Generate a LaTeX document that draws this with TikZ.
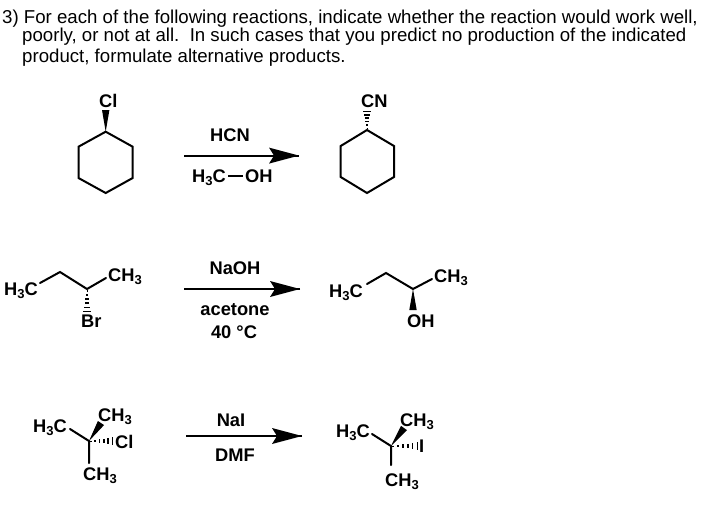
\documentclass[tikz,border=0pt]{standalone}
\usepackage{fontspec}
\setmainfont{Liberation Sans}
\usetikzlibrary{calc}
\newcommand\lowidx[1]{\raisebox{-3.5pt}{\fontsize{13}{13}\selectfont #1}}
\newcommand\hashbond[2]{%
  \foreach \t in {0.08,0.26,0.44,0.62,0.8,0.98}{%
    \draw[line width=1.6pt] ($(#1)!\t!(#2)!{\t*3.6pt}!90:(#2)$) -- ($(#1)!\t!(#2)!{\t*3.6pt}!-90:(#2)$);}}
\newcommand\wedgebond[2]{%
  \fill[black] (#1) -- ($(#2)!3.7pt!90:(#1)$) -- ($(#2)!3.7pt!-90:(#1)$) -- cycle;}
\tikzset{
  chem/.style={inner sep=0pt,font=\fontsize{18.3}{18.3}\selectfont\bfseries,anchor=base west},
  reagent/.style={inner sep=0pt,font=\fontsize{18.3}{18.3}\selectfont\bfseries,anchor=base},
  bond/.style={line width=2pt,line join=miter,line cap=round},
  rxnline/.style={line width=2pt},
  rxnhead/.style={fill=black,draw=none},
  question/.style={inner sep=0pt,anchor=base west,font=\fontsize{18.65}{18.65}\selectfont}
}
\begin{document}
\begin{tikzpicture}[x=1pt,y=-1pt]
\useasboundingbox (0,0) rectangle (726,525);
% question text
\node[question] (q1) at (2,23) {3) For each of the following reactions, indicate whether the reaction would work well,};
\node[question] (q2) at (22,41) {poorly, or not at all.\ \ In such cases that you predict no production of the indicated};
\node[question] (q3) at (22,62) {product, formulate alternative products.};
% reaction 1 reactant
\coordinate (a1) at (105.7,131.7);
\coordinate (a2) at (132.7,146.7);
\coordinate (a3) at (132.7,178);
\coordinate (a4) at (105.7,193);
\coordinate (a5) at (78.5,178);
\coordinate (a6) at (78.5,146.7);
\coordinate (a7) at (105.7,110);
\draw[bond] (a1) -- (a2) -- (a3) -- (a4) -- (a5) -- (a6) -- cycle;
\wedgebond{a1}{a7}
\node[chem] (cl1) at (99,107.5) {Cl};
% reaction 1 arrow
\coordinate (r1a) at (184,155.6);
\coordinate (r1b) at (299,155.6);
\draw[rxnline] (r1a) -- (r1b);
\fill[rxnhead] (r1b) -- ++(-30,-8) -- ++(5,8) -- ++(-5,8) -- cycle;
\node[reagent] (hcn) at (230,141.5) {HCN};
\node[chem] (meoh1) at (192,182) {H\lowidx{3}C};
\coordinate (mb1) at (228,176);
\coordinate (mb2) at (243,176);
\draw[line width=2pt] (mb1) -- (mb2);
\node[chem] (meoh2) at (245,182) {OH};
% product 1
\coordinate (b1) at (367,130);
\coordinate (b2) at (394,146);
\coordinate (b3) at (394,177);
\coordinate (b4) at (367,193);
\coordinate (b5) at (340.7,177);
\coordinate (b6) at (340.7,146);
\coordinate (b7) at (367,111);
\draw[bond] (b1) -- (b2) -- (b3) -- (b4) -- (b5) -- (b6) -- cycle;
\hashbond{b1}{b7}
\node[chem] (cn) at (361,107) {CN};
% reaction 2 reactant
\node[chem] (c1) at (4,295) {H\lowidx{3}C};
\coordinate (c2) at (40,283);
\coordinate (c3) at (60,272);
\coordinate (c4) at (87,289);
\coordinate (c5) at (106,278);
\coordinate (c6) at (87,312);
\draw[bond] (c2) -- (c3) -- (c4) -- (c5);
\hashbond{c4}{c6}
\node[chem] (c7) at (108,281) {CH\lowidx{3}};
\node[chem] (br) at (81,327) {Br};
% reaction 2 arrow
\coordinate (r2a) at (184,289);
\coordinate (r2b) at (300,289);
\draw[rxnline] (r2a) -- (r2b);
\fill[rxnhead] (r2b) -- ++(-30,-8) -- ++(5,8) -- ++(-5,8) -- cycle;
\node[reagent] (naoh) at (235,274.5) {NaOH};
\node[reagent] (acetone) at (235,315) {acetone};
\node[reagent] (temp) at (234,338) {40 °C};
% product 2
\node[chem] (d1) at (329,297) {H\lowidx{3}C};
\coordinate (d2) at (367,284);
\coordinate (d3) at (386,273);
\coordinate (d4) at (413,289);
\coordinate (d5) at (432,279);
\coordinate (d6) at (413,310);
\draw[bond] (d2) -- (d3) -- (d4) -- (d5);
\wedgebond{d4}{d6}
\node[chem] (d7) at (434,282) {CH\lowidx{3}};
\node[chem] (oh) at (407,327) {OH};
% reaction 3 reactant
\coordinate (e0) at (89,441);
\coordinate (e1) at (70,429);
\coordinate (e2) at (101,423);
\coordinate (e3) at (113,441);
\coordinate (e4) at (89,463);
\draw[bond] (e1) -- (e0) -- (e4);
\wedgebond{e0}{e2}
\hashbond{e0}{e3}
\node[chem] (e5) at (33,432) {H\lowidx{3}C};
\node[chem] (e6) at (98,421) {CH\lowidx{3}};
\node[chem] (e7) at (115,448) {Cl};
\node[chem] (e8) at (83,480) {CH\lowidx{3}};
% reaction 3 arrow
\coordinate (r3a) at (186,436);
\coordinate (r3b) at (302,436);
\draw[rxnline] (r3a) -- (r3b);
\fill[rxnhead] (r3b) -- ++(-30,-8) -- ++(5,8) -- ++(-5,8) -- cycle;
\node[reagent] (nai) at (231,426) {NaI};
\node[reagent] (dmf) at (235,461) {DMF};
% product 3
\coordinate (f0) at (391,446);
\coordinate (f1) at (372,434);
\coordinate (f2) at (404,428);
\coordinate (f3) at (418,446);
\coordinate (f4) at (391,465);
\draw[bond] (f1) -- (f0) -- (f4);
\wedgebond{f0}{f2}
\hashbond{f0}{f3}
\node[chem] (f5) at (336,437) {H\lowidx{3}C};
\node[chem] (f6) at (400,426) {CH\lowidx{3}};
\node[chem] (f7) at (419,452) {I};
\node[chem] (f8) at (385,486) {CH\lowidx{3}};
\end{tikzpicture}
\end{document}
